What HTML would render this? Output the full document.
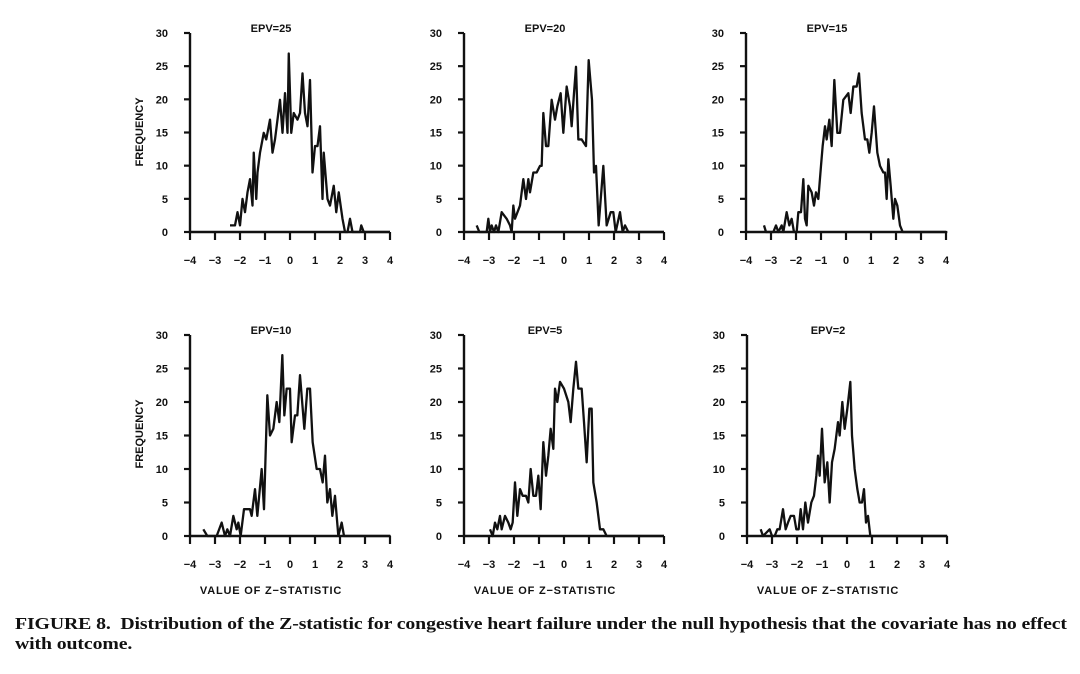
<!DOCTYPE html>
<html><head><meta charset="utf-8"><style>
body{margin:0;background:#fff;width:1080px;height:674px;overflow:hidden}
svg text{font-family:"Liberation Sans",Arial,sans-serif;font-weight:bold;fill:#111}
.cap{position:absolute;left:15px;top:614px;font-family:"Liberation Serif",serif;font-weight:bold;font-size:17.3px;line-height:20px;color:#111;white-space:nowrap;letter-spacing:-0.1px;transform:scaleX(1.145);transform-origin:0 0}
</style></head><body>
<svg id="s" width="1080" height="674" style="position:absolute;left:0;top:0">
<g fill="none" stroke="#111" stroke-width="2.3" stroke-linejoin="round">
<polyline transform="translate(290,232) scale(25,-6.61)" vector-effect="non-scaling-stroke" points="-2.4,1 -2.2,1 -2.1,3 -2,1 -1.9,5 -1.8,3 -1.7,6 -1.6,8 -1.5,4 -1.45,12 -1.35,5 -1.3,9 -1.2,12 -1.05,15 -0.95,14 -0.8,17 -0.7,12 -0.6,14 -0.4,20 -0.3,15 -0.2,21 -0.1,15 -0.05,27 0.05,15 0.15,18 0.3,17 0.4,18 0.5,24 0.6,18 0.7,16 0.8,23 0.9,9 1,13 1.1,13 1.2,16 1.3,5 1.35,12 1.5,5 1.6,4 1.75,7 1.85,3 1.95,6 2.1,2 2.2,0 2.3,0 2.4,2 2.5,0 2.8,0 2.85,1 2.95,0 4,0"/>
<polyline transform="translate(440,232) scale(0.33333,-6.61)" vector-effect="non-scaling-stroke" points="110,1 118,0 140,0 145,2 150,0 155,1 162,0 168,1 175,0 185,3 200,2 210,1 215,0 220,4 225,2 240,4 250,8 258,5 265,8 270,6 280,9 290,9 300,10 305,10 310,18 318,13 325,13 335,20 345,17 352,19 362,21 370,15 380,22 390,19 395,16 402,21 408,25 415,14 425,14 438,13 446,26 456,20 462,9 468,10 476,1 490,10 500,1 512,3 520,3 527,0 540,3 548,0 555,1 565,0 672,0"/>
<polyline transform="translate(440,232) scale(0.33333,-6.61)" vector-effect="non-scaling-stroke" points="972,1 978,0 1000,0 1008,1 1015,0 1025,1 1030,0 1040,3 1048,1 1055,2 1062,0 1070,0 1075,3 1083,3 1090,8 1095,2 1100,1 1105,7 1115,6 1122,4 1128,6 1135,5 1143,10 1148,13 1155,16 1160,14 1168,17 1175,13 1183,23 1192,15 1200,15 1210,20 1225,21 1232,18 1240,22 1250,22 1257,24 1265,18 1275,14 1282,14 1288,12 1295,15 1302,19 1312,12 1320,10 1330,9 1335,9 1340,5 1345,11 1352,7 1360,2 1365,5 1372,4 1380,1 1388,0 1522,0"/>
<polyline transform="translate(120,536) scale(0.33333,-6.7)" vector-effect="non-scaling-stroke" points="250,1 262,0 290,0 305,2 315,0 322,1 330,0 340,3 350,1 355,2 362,0 372,4 390,4 395,3 405,7 412,3 425,10 432,4 442,21 450,15 460,16 470,20 478,17 487,27 493,18 500,22 510,22 515,14 525,18 532,18 540,24 553,16 562,22 570,22 578,14 590,10 600,10 608,8 615,12 622,5 630,7 637,3 645,6 655,0 665,2 672,0 812,0"/>
<polyline transform="translate(440,536) scale(0.33333,-6.7)" vector-effect="non-scaling-stroke" points="150,1 158,0 165,2 172,1 180,3 185,1 195,3 205,2 212,1 218,2 225,8 232,3 240,7 248,6 258,6 265,5 272,10 280,6 288,6 295,9 302,4 310,14 318,9 325,12 332,16 340,13 345,22 352,20 360,23 372,22 385,20 392,17 400,22 408,26 415,22 425,22 432,17 440,11 448,19 455,19 460,8 470,5 480,1 490,1 500,0 672,0"/>
<polyline transform="translate(438,536) scale(0.33333,-6.7)" vector-effect="non-scaling-stroke" points="968,1 975,0 995,1 1002,0 1010,0 1018,1 1025,1 1035,4 1043,1 1050,2 1058,3 1068,3 1075,1 1082,1 1088,4 1095,1 1102,5 1110,2 1120,5 1128,6 1135,9 1140,12 1145,9 1152,16 1160,8 1168,11 1175,5 1182,11 1190,13 1200,17 1205,15 1213,20 1220,16 1228,19 1237,23 1242,15 1250,10 1258,7 1265,5 1272,5 1278,7 1284,2 1290,3 1297,0 1528,0"/>
</g>
<g id="ax"></g>
</svg>
<div class="cap">FIGURE 8.&nbsp; Distribution of the Z-statistic for congestive heart failure under the null hypothesis that the covariate has no effect<br>with outcome.</div>
<script>
var ax=document.getElementById('ax'),h='';
var P=[[190,232,33,'EPV=25',1,0],[464,232,33,'EPV=20',0,0],[746,232,33,'EPV=15',0,0],
[190,536,335,'EPV=10',1,1],[464,536,335,'EPV=5',0,1],[747,536,335,'EPV=2',0,1]];
P.forEach(function(p){
 var x0=p[0],y0=p[1],yt=p[2],w=200,dy=(y0-yt)/6;
 h+='<path d="M'+x0+' '+yt+'V'+y0+'H'+(x0+w)+'" fill="none" stroke="#111" stroke-width="2.4"/>';
 for(var i=0;i<=8;i++){var x=x0+i*25;h+='<line x1="'+x+'" y1="'+y0+'" x2="'+x+'" y2="'+(y0+8)+'" stroke="#111" stroke-width="2.2"/>';
  var l=(i-4<0?'\u2212'+(4-i):''+(i-4));h+='<text x="'+x+'" y="'+(y0+32)+'" font-size="11" text-anchor="middle">'+l+'</text>';}
 for(var j=0;j<=6;j++){var y=y0-j*dy;h+='<line x1="'+(x0-6)+'" y1="'+y+'" x2="'+x0+'" y2="'+y+'" stroke="#111" stroke-width="2.2"/>';
  h+='<text x="'+(x0-22)+'" y="'+(y+4)+'" font-size="11" text-anchor="end">'+(j*5)+'</text>';}
 h+='<text x="'+(x0+81)+'" y="'+(yt-1)+'" font-size="11" text-anchor="middle">'+p[3]+'</text>';
 if(p[4])h+='<text transform="translate('+(x0-47)+','+(yt+99)+') rotate(-90)" font-size="11" text-anchor="middle">FREQUENCY</text>';
 if(p[5])h+='<text x="'+(x0+81)+'" y="'+(y0+58)+'" font-size="11" text-anchor="middle" letter-spacing="0.8">VALUE OF Z\u2212STATISTIC</text>';
});
ax.innerHTML=h;
</script>
</body></html>
